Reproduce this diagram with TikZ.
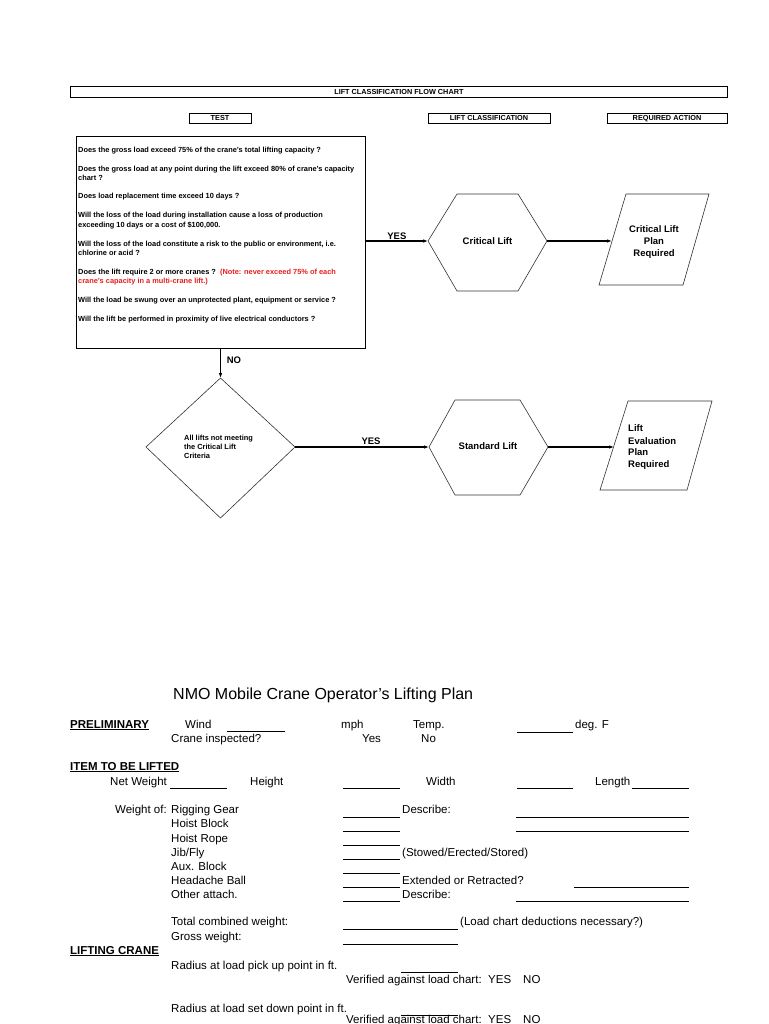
\documentclass[tikz,border=0pt]{standalone}
\usepackage{fontspec}
\setmainfont{Liberation Sans}
\usetikzlibrary{arrows.meta}
\definecolor{notered}{RGB}{230,30,30}
\begin{document}
\begin{tikzpicture}[x=1pt,y=-1pt,
  hdr/.style={draw, line width=0.8pt, inner sep=0, text height=5.4pt, text depth=0pt, font=\bfseries\fontsize{7.3}{8}\selectfont},
  q/.style={anchor=base west, inner sep=0, font=\bfseries\fontsize{7.4}{9}\selectfont},
  shp/.style={draw=black!80, line width=0.6pt},
  arr/.style={line width=1.1pt, -{Latex[length=5pt,width=3.6pt]}},
  lbl/.style={inner sep=0, font=\bfseries\fontsize{9.5}{12}\selectfont},
  lbll/.style={anchor=base west, inner sep=0, font=\bfseries\fontsize{9.5}{12}\selectfont},
  ft/.style={anchor=base west, inner sep=0, font=\fontsize{11.5}{14}\selectfont},
  fb/.style={anchor=base west, inner sep=0, font=\bfseries\fontsize{11.5}{14}\selectfont},
  blank/.style={line width=0.7pt}
]
\useasboundingbox (0,0) rectangle (768,1024);
\fill[white] (0,0) rectangle (768,1024);

% ---------- headers ----------
\node[hdr, minimum width=657pt, minimum height=11pt, anchor=north west] (title) at (70,86) {LIFT CLASSIFICATION FLOW CHART};
\node[hdr, minimum width=62pt, minimum height=10pt] (hTest) at (220,118) {TEST};
\node[hdr, minimum width=122pt, minimum height=10pt] (hClass) at (489,118) {LIFT CLASSIFICATION};
\node[hdr, minimum width=120pt, minimum height=10pt] (hAction) at (667,118) {REQUIRED ACTION};

% ---------- test box ----------
\node[draw, line width=0.8pt, minimum width=289pt, minimum height=212pt, anchor=north west, inner sep=0] (testbox) at (76,136) {};
\node[q] (q1) at (78,153) {Does the gross load exceed 75\% of the crane's total lifting capacity ?};
\node[q] (q2a) at (78,172) {Does the gross load at any point during the lift exceed 80\% of crane's capacity};
\node[q] (q2b) at (78,181) {chart ?};
\node[q] (q3) at (78,199) {Does load replacement time exceed 10 days ?};
\node[q] (q4a) at (78,218) {Will the loss of the load during installation cause a loss of production};
\node[q] (q4b) at (78,227) {exceeding 10 days or a cost of \$100,000.};
\node[q] (q5a) at (78,246) {Will the loss of the load constitute a risk to the public or environment, i.e.};
\node[q] (q5b) at (78,255) {chlorine or acid ?};
\node[q] (q6a) at (78,274) {Does the lift require 2 or more cranes ?\ \ \textcolor{notered}{(Note: never exceed 75\% of each}};
\node[q, text=notered] (q6b) at (78,283) {crane's capacity in a multi-crane lift.)};
\node[q] (q7) at (78,302) {Will the load be swung over an unprotected plant, equipment or service ?};
\node[q] (q8) at (78,321) {Will the lift be performed in proximity of live electrical conductors ?};

% ---------- diamond ----------
\coordinate (dt) at (220.5,378);
\coordinate (dr) at (295,447);
\coordinate (db) at (220.5,518);
\coordinate (dl) at (146,447);
\draw[shp] (dt) -- (dr) -- (db) -- (dl) -- cycle;
\node[q] (d1) at (184,440) {All lifts not meeting};
\node[q] (d2) at (184,449) {the Critical Lift};
\node[q] (d3) at (184,458) {Criteria};

% ---------- critical lift hexagon ----------
\coordinate (chl) at (428,241);
\coordinate (chr) at (547,241);
\draw[shp] (chl) -- (457,194) -- (518,194) -- (chr) -- (518,291) -- (457,291) -- cycle;
\node[lbl] (critical) at (487.5,241) {Critical Lift};

% ---------- critical plan parallelogram ----------
\coordinate (cpl) at (612,241);
\draw[shp] (626,194) -- (709,194) -- (683,285) -- (599,285) -- cycle;
\node[lbl, align=center] (critplan) at (654,242) {Critical Lift\\Plan\\Required};

% ---------- standard lift hexagon ----------
\coordinate (shl) at (429,447);
\coordinate (shr) at (548,447);
\draw[shp] (shl) -- (455,400) -- (520,400) -- (shr) -- (520,495) -- (455,495) -- cycle;
\node[lbl] (standard) at (488,446) {Standard Lift};

% ---------- lift evaluation parallelogram ----------
\coordinate (spl) at (614,447);
\draw[shp] (628,401) -- (712,401) -- (687,490) -- (600,490) -- cycle;
\node[lbll] (e1) at (628,431.5) {Lift};
\node[lbll] (e2) at (628,444) {Evaluation};
\node[lbll] (e3) at (628,455.5) {Plan};
\node[lbll] (e4) at (628,467.5) {Required};

% ---------- connectors ----------
\draw[arr] (testbox.east |- chl) -- node[lbl, pos=0.5, yshift=5pt] (yes1) {YES} (chl);
\draw[arr] (chr) -- (cpl);
\draw[arr] (testbox.south -| dt) -- (dt);
\node[lbl] (no1) at (234,360) {NO};
\draw[arr] (dr) -- (shl);
\node[lbl] (yes2) at (371,441) {YES};
\draw[arr] (shr) -- (spl);

% ---------- lifting plan form ----------
\node[anchor=base west, inner sep=0, font=\fontsize{16}{19}\selectfont] (ftitle) at (173,699) {NMO Mobile Crane Operator's Lifting Plan};

\node[fb] (prelim) at (70,728) {\underline{PRELIMINARY}};
\node[ft] at (185,728) {Wind};
\node[ft] at (341,728) {mph};
\node[ft] at (413,728) {Temp.};
\node[ft] at (575,728) {deg. F};
\draw[blank] (227,731) -- (285,731);
\draw[blank] (517,732) -- (573,732);
\node[ft] at (171,742) {Crane inspected?};
\node[ft] at (362,742) {Yes};
\node[ft] at (421,742) {No};

\node[fb] (item) at (70,770) {\underline{ITEM TO BE LIFTED}};
\node[ft] at (110,785) {Net Weight};
\node[ft] at (250,785) {Height};
\node[ft] at (426,785) {Width};
\node[ft] at (595,785) {Length};
\draw[blank] (170,788) -- (227,788);
\draw[blank] (343,788) -- (400,788);
\draw[blank] (517,788) -- (573,788);
\draw[blank] (632,788) -- (689,788);

\node[ft] at (115,813) {Weight of:};
\node[ft] at (171,813) {Rigging Gear};
\node[ft] at (171,827) {Hoist Block};
\node[ft] at (171,842) {Hoist Rope};
\node[ft] at (171,856) {Jib/Fly};
\node[ft] at (171,870) {Aux. Block};
\node[ft] at (171,884) {Headache Ball};
\node[ft] at (171,898) {Other attach.};
\foreach \yy in {817,831,845,859,873,887,901} {\draw[blank] (343,\yy) -- (400,\yy);}
\node[ft] at (402,813) {Describe:};
\node[ft] at (402,856) {(Stowed/Erected/Stored)};
\node[ft] at (402,884) {Extended or Retracted?};
\node[ft] at (402,898) {Describe:};
\draw[blank] (516,817) -- (689,817);
\draw[blank] (516,831) -- (689,831);
\draw[blank] (574,887) -- (689,887);
\draw[blank] (516,901) -- (689,901);

\node[ft] at (171,925) {Total combined weight:};
\draw[blank] (343,929) -- (458,929);
\node[ft] at (460,925) {(Load chart deductions necessary?)};
\node[ft] at (171,940) {Gross weight:};
\draw[blank] (343,944) -- (458,944);

\node[fb] (crane) at (70,954) {\underline{LIFTING CRANE}};
\node[ft] at (171,969) {Radius at load pick up point in ft.};
\draw[blank] (401,972) -- (458,972);
\node[ft] at (346,983) {Verified against load chart:};
\node[ft] at (488,983) {YES};
\node[ft] at (523,983) {NO};
\node[ft] at (171,1012) {Radius at load set down point in ft.};
\draw[blank] (401,1015) -- (458,1015);
\node[ft] at (346,1023.5) {Verified against load chart:};
\node[ft] at (488,1023.5) {YES};
\node[ft] at (523,1023.5) {NO};
\end{tikzpicture}
\end{document}
